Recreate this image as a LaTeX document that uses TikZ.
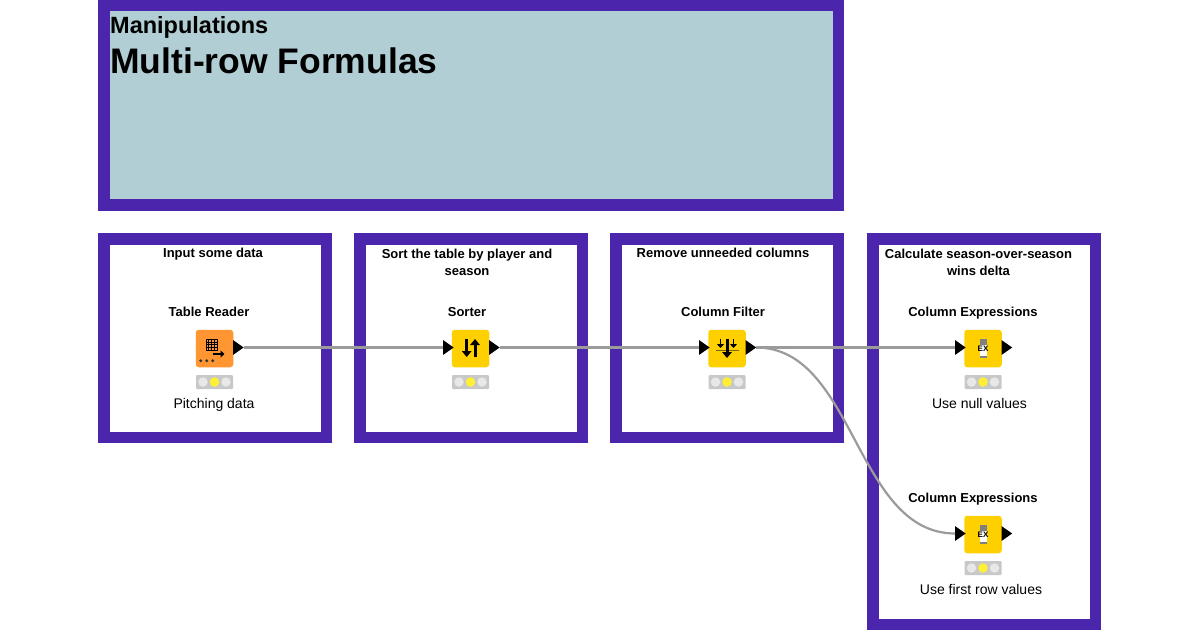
\documentclass[tikz,border=0pt]{standalone}
\usepackage{fontspec}
\setmainfont{Liberation Sans}
\usepackage{xcolor}
\usetikzlibrary{arrows.meta}
\usetikzlibrary{shapes.geometric}
\definecolor{frameViolet}{HTML}{4B25AB}
\definecolor{titleFill}{HTML}{B2CED5}
\definecolor{nodeYellow}{HTML}{FFD000}
\definecolor{nodeOrange}{HTML}{FF9632}
\definecolor{statusGray}{HTML}{C8C8C8}
\definecolor{lightOff}{HTML}{E8E8E8}
\definecolor{lightOn}{HTML}{FFF033}
\definecolor{wireGray}{HTML}{9B9B9B}
\definecolor{barOlive}{HTML}{7A6618}
\tikzset{
frame/.style = {rectangle, draw=frameViolet, line width=11.5pt, fill=white,
                minimum width=#1, inner sep=0pt, outer sep=0pt},
frame/.default = 222.5pt,
knode/.style = {rectangle, rounded corners=3pt, fill=#1, minimum size=37.5pt,
                inner sep=0pt, outer sep=0pt},
port/.style = {isosceles triangle, isosceles triangle apex angle=70, fill=black,
               minimum height=10.5pt, minimum width=12pt, inner sep=0pt, outer sep=0pt},
status/.style = {rectangle, fill=statusGray, minimum width=37pt, minimum height=14pt,
                 rounded corners=1pt, inner sep=0pt, outer sep=0pt},
lamp/.style = {circle, fill=#1, minimum size=9.5pt, inner sep=0pt, outer sep=0pt},
lamp/.default = lightOff,
heading/.style = {font=\fontsize{13}{17}\selectfont\bfseries, align=center, inner sep=0pt},
nodename/.style = {font=\fontsize{13}{17}\selectfont\bfseries, inner sep=0pt, anchor=base},
caption/.style = {font=\fontsize{14}{17}\selectfont, inner sep=0pt, anchor=base},
wire/.style = {draw=wireGray, line width=2.2pt},
thickarrow/.style = {-{Triangle[width=9.5pt,length=6pt]}, line width=3pt},
thinarrow/.style = {-{Triangle[width=7pt,length=4pt]}, line width=1.5pt}
}
\begin{document}
\begin{tikzpicture}[x=1pt,y=-1pt]
\useasboundingbox (0,0) rectangle (1200,630);

% frames
\node[frame=734.5pt, minimum height=199.5pt, fill=titleFill] (titleFrame) at (471,105.25) {};
\node[frame, minimum height=198.5pt] (inputFrame) at (215,338) {};
\node[frame, minimum height=198.5pt] (sortFrame) at (471,338) {};
\node[frame, minimum height=198.5pt] (filterFrame) at (727,338) {};
\node[frame, minimum height=385.5pt] (calcFrame) at (984,431.5) {};

% title
\node[anchor=west, inner sep=0pt, font=\fontsize{23.5}{28}\selectfont\bfseries] (titleSmall) at (110,27.5) {Manipulations};
\node[anchor=west, inner sep=0pt, font=\fontsize{35.5}{42}\selectfont\bfseries] (titleBig) at (110,61) {Multi-row Formulas};

% frame headings
\node[heading, anchor=base] (inputHead) at (213,257.5) {Input some data};
\node[heading] (sortHead) at (467,262) {Sort the table by player and\\season};
\node[heading, anchor=base] (filterHead) at (723,257.5) {Remove unneeded columns};
\node[heading] (calcHead) at (978.5,262) {Calculate season-over-season\\wins delta};

% workflow nodes
\foreach \name/\px/\py/\col in {reader/214.5/348.5/nodeOrange, sorter/470.5/348.5/nodeYellow,
    filter/727/348.5/nodeYellow, nullExpr/983/348.5/nodeYellow, firstExpr/983/534.5/nodeYellow}{
  \node[knode=\col] (\name) at (\px,\py) {};
  \node[port] (\name Out) at (\px+22.5,\py-1) {};
  \node[status] (\name Status) at (\px,\py+33.5) {};
  \node[lamp] (\name LampA) at (\px-11.5,\py+33.5) {};
  \node[lamp=lightOn] (\name LampB) at (\px,\py+33.5) {};
  \node[lamp] (\name LampC) at (\px+11.5,\py+33.5) {};
}
\node[port] (sorterIn) at (447,347.5) {};
\node[port] (filterIn) at (703,347.5) {};
\node[port] (nullExprIn) at (959,347.5) {};
\node[port] (firstExprIn) at (959,533.5) {};

% reader icon
\draw[black, line width=0.9pt, step=2.8pt, shift={(206,339.3)}] (0,0) grid (11.2,11.2) rectangle (0,0);
\draw[-{Triangle[width=7pt,length=4pt]}, line width=1.7pt] (213,354) -- (224.5,354);
\foreach \dotx in {200.7,206.7,212.7}
  \fill[black!80] (\dotx,360.7) circle (1.6pt);

% sorter icon
\draw[thickarrow] (466.7,339) -- (466.7,357);
\draw[thickarrow] (475,357) -- (475,339);

% filter icon
\draw[thickarrow] (727,338.5) -- (727,358);
\foreach \barx in {720.5,733.5}{
  \draw[thinarrow] (\barx,339) -- (\barx,348);
  \draw[barOlive, line width=1.8pt] (\barx-5,350.5) -- (\barx+5,350.5);
}

% expression icons
\foreach \py in {348.5,534.5}{
  \fill[gray] (979.5,\py-9.5) rectangle (986.5,\py+9);
  \fill[white] (979.5,\py-4) rectangle (986.5,\py+7);
}
\node[inner sep=0pt, font=\fontsize{8}{8}\selectfont\bfseries] (nullIcon) at (983,348.5) {EX};
\node[inner sep=0pt, font=\fontsize{8}{8}\selectfont\bfseries] (firstIcon) at (983,534.5) {EX};

% names and captions
\node[nodename] (readerName) at (209,316.5) {Table Reader};
\node[nodename] (sorterName) at (467,316.5) {Sorter};
\node[nodename] (filterName) at (723,316.5) {Column Filter};
\node[nodename] (nullName) at (973,316.5) {Column Expressions};
\node[nodename] (firstName) at (973,502.5) {Column Expressions};
\node[caption] (readerCaption) at (214,408.5) {Pitching data};
\node[caption] (nullCaption) at (979.5,408.5) {Use null values};
\node[caption] (firstCaption) at (981,594.5) {Use first row values};

% connections
\draw[wire] (readerOut.east) -- (sorterIn.west);
\draw[wire] (sorterOut.east) -- (filterIn.west);
\draw[wire] (filterOut.east) -- (nullExprIn.west);
\draw[wire] (filterOut.east) .. controls (855,347.5) and (855,533.5) .. (firstExprIn.west);
\end{tikzpicture}
\end{document}
